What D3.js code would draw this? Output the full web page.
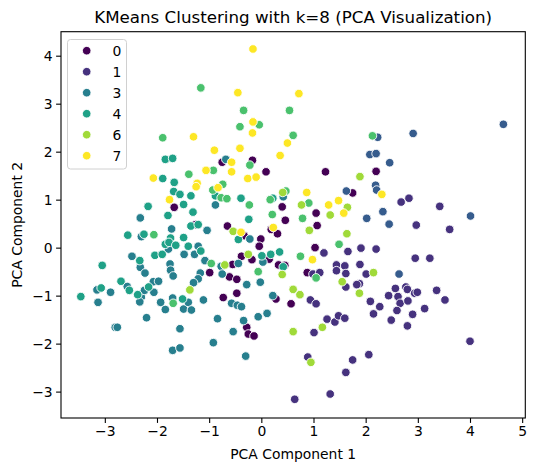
<!DOCTYPE html>
<html>
<head>
<meta charset="utf-8">
<script src="https://cdn.jsdelivr.net/npm/d3@7"></script>
<style>
  html, body { margin: 0; padding: 0; background: #fff; }
  svg text { font-family: "DejaVu Sans", sans-serif; fill: #000; }
</style>
</head>
<body>
<svg id="chart" width="536" height="470"></svg>
<script>
// ---------- data ----------
const title = "KMeans Clustering with k=8 (PCA Visualization)";
const xLabel = "PCA Component 1";
const yLabel = "PCA Component 2";
const clusterIds = [0, 1, 2, 3, 4, 5, 6, 7];
const legendLabels = [0, 1, 3, 4, 6, 7];
const xTicks = [-3, -2, -1, 0, 1, 2, 3, 4, 5];
const yTicks = [-3, -2, -1, 0, 1, 2, 3, 4];
const xDomain = [-3.84, 5.06];
const yDomain = [-3.55, 4.50];

const cluster0 = [[-0.75,1.78],[-0.17,1.82],[0.09,1.58],[1.23,1.58],[2.20,1.59],[-1.67,0.84],[-1.26,0.48],[-0.65,0.45],
  [-0.99,-0.52],[0.40,0.85],[1.05,0.72],[0.46,0.57],[1.07,0.46],[0.19,0.38],[0.31,0.29],[-0.33,0.25],[-0.01,0.18],
  [-0.04,0.03],[1.03,0.00],[1.75,1.14],[-0.38,-0.18],[0.15,-0.24],[-0.18,-0.25],[-0.55,-0.35],[0.33,-0.36],[0.45,-0.37],
  [0.88,-0.52],[-0.61,-0.61],[-0.47,-0.66],[-0.73,-1.04],[-0.47,-0.95],[0.28,-1.07],[0.57,-1.17],[-0.28,-1.66],
  [-0.25,-1.80],[-0.14,-1.84]];
const cluster1 = [[1.91,-0.01],[2.20,-0.03],[1.20,-0.11],[1.66,-0.08],[0.99,-0.55],[1.12,-0.52],[1.44,-0.36],[1.60,-0.38],
  [1.44,-0.48],[1.62,-0.54],[1.89,-0.35],[2.01,-0.55],[1.88,-0.75],[1.83,-0.77],[2.68,0.95],[2.83,1.03],[3.42,0.86],
  [2.97,0.47],[3.61,0.38],[2.95,-0.22],[3.23,-0.22],[0.94,-1.09],[1.05,-1.17],[1.26,-1.49],[1.41,-1.55],[1.48,-1.42],
  [1.60,-1.47],[1.01,-1.77],[1.62,-0.82],[2.09,-1.12],[2.27,-1.23],[2.15,-1.38],[0.89,-2.28],[2.06,-2.23],[1.75,-2.34],
  [1.62,-2.60],[1.32,-3.05],[0.64,-3.16],[2.44,-1.00],[2.57,-0.85],[2.62,-1.02],[2.66,-1.16],[2.60,-1.31],[2.49,-1.51],
  [2.77,-0.82],[2.80,-0.87],[2.81,-1.11],[2.94,-0.95],[2.99,-0.93],[2.90,-1.39],[2.80,-1.63],[3.13,-1.27],[3.36,-0.89],
  [3.52,-1.09],[4.00,-1.95]];
const cluster2 = [[2.23,2.30],[2.08,1.94],[2.20,1.96],[4.64,2.57],[2.91,2.38],[2.46,1.77],[1.63,1.18],[2.19,1.30],
  [2.21,1.20],[2.33,0.75],[2.02,0.61],[2.45,0.49],[4.01,0.66],[2.64,-0.55]];
const cluster3 = [[-0.68,1.84],[-0.88,0.89],[-2.32,0.62],[-1.04,0.36],[-1.72,0.39],[-2.30,0.23],[-1.21,0.03],[-1.78,-0.03],
  [-1.48,-0.14],[-1.28,-0.14],[-2.48,-0.18],[-1.08,-0.27],[-2.32,-0.41],[-1.75,-0.34],[-1.74,-0.47],[-2.23,-0.53],
  [-1.17,-0.53],[-0.77,-0.39],[-0.75,-0.55],[-1.69,-0.59],[-1.21,-0.65],[-2.07,-0.71],[-1.97,-0.70],[-1.30,-0.73],
  [0.42,1.06],[-0.22,0.18],[0.03,-0.30],[-0.44,-0.33],[-0.28,-0.77],[-0.02,-0.72],[-3.15,-0.88],[-3.13,-1.14],
  [-2.89,-0.93],[-2.57,-0.81],[-2.30,-1.03],[-2.24,-0.89],[-2.33,-1.13],[-2.06,-0.93],[-1.93,-1.14],[-1.84,-1.29],
  [-1.70,-1.05],[-1.49,-1.28],[-1.40,-1.14],[-1.34,-1.30],[-1.11,-1.09],[-0.84,-1.48],[-2.20,-1.46],[-2.80,-1.66],
  [-2.76,-1.66],[-1.56,-1.69],[-0.92,-1.98],[-1.70,-2.14],[-1.56,-2.09],[-0.57,-1.16],[-0.46,-1.20],[-0.38,-1.23],
  [-0.34,-1.52],[-0.06,-1.44],[0.11,-1.37],[0.22,-1.00],[-0.54,-1.75],[-0.30,-2.26]];
const cluster4 = [[-1.84,1.84],[-1.70,1.86],[-1.89,1.44],[-1.67,1.36],[-1.68,1.17],[-1.56,1.11],[-1.35,1.08],[-0.88,1.08],
  [-1.49,0.90],[-2.17,0.86],[-1.31,0.74],[-1.79,0.67],[-1.35,0.45],[-1.21,0.48],[-2.56,0.26],[-2.25,0.28],[-1.74,0.20],
  [-1.49,0.21],[-1.84,0.07],[-1.77,0.11],[-1.64,0.05],[-1.40,0.03],[-1.16,-0.07],[-2.04,-0.16],[-1.90,-0.14],
  [-2.33,-0.27],[-3.05,-0.37],[-2.69,-0.70],[-0.39,1.03],[0.22,1.03],[-0.24,0.59],[-0.44,0.17],[0.35,-0.09],
  [0.18,-0.14],[0.01,-0.17],[0.42,-0.40],[-3.46,-1.02],[-3.07,-0.84],[-2.53,-0.89],[-2.37,-0.98],[-2.16,-0.82],
  [-1.51,-1.07]];
const cluster5 = [[-1.16,3.33],[-1.89,2.29],[-0.34,2.86],[0.54,2.86],[-0.41,2.52],[-0.04,2.56],[0.61,2.34],[2.13,2.33],
  [-1.39,1.53],[-0.92,1.61],[-0.93,1.20],[-0.77,1.04],[-2.06,0.27],[-0.96,-0.33],[-0.22,1.72],[-0.74,1.32],[-0.66,1.02],
  [0.17,1.00],[0.47,1.18],[-0.23,0.89],[0.91,0.93],[0.21,0.69],[0.79,0.61],[1.49,0.07],[0.75,-0.18],[-0.06,-0.50],
  [1.05,-0.63],[-1.69,-1.16]];
const cluster6 = [[-0.70,-0.36],[1.89,1.48],[0.41,1.15],[0.77,0.89],[1.65,0.84],[1.32,0.68],[0.92,0.36],[-0.54,0.34],
  [1.64,0.29],[-0.25,-0.14],[0.40,-0.56],[2.15,-0.52],[1.55,-0.71],[-1.37,-0.88],[0.61,-0.87],[0.74,-0.98],[0.61,-1.75],
  [1.17,-1.66],[1.88,-0.95],[0.95,-2.39]];
const cluster7 = [[-1.30,2.31],[-0.90,2.03],[-0.16,4.14],[-0.45,3.23],[0.72,3.21],[-0.16,2.62],[-0.17,2.39],[0.50,2.18],
  [-0.41,2.07],[0.36,1.92],[-1.06,1.61],[-2.07,1.45],[-1.23,1.34],[-1.25,1.27],[-0.83,1.25],[-1.76,1.00],[-0.57,1.78],
  [-0.57,1.58],[-0.26,1.44],[-0.10,1.47],[0.87,1.15],[2.31,1.11],[1.48,0.98],[1.29,0.89],[1.58,0.72],[0.23,0.42],
  [-0.39,0.32],[0.98,-0.25]];

const clusterPoints = [cluster0, cluster1, cluster2, cluster3, cluster4, cluster5, cluster6, cluster7];
const points = [];
clusterPoints.forEach((arr, k) => arr.forEach(p => points.push({ x: p[0], y: p[1], c: clusterIds[k] })));

// ---------- layout ----------
const svg = d3.select("#chart");
const plot = { left: 61, right: 525.3, top: 31.7, bottom: 418 };

const x = d3.scaleLinear().domain(xDomain).range([plot.left, plot.right]);
const y = d3.scaleLinear().domain(yDomain).range([plot.bottom, plot.top]);
const color = d3.scaleSequential(d3.interpolateViridis).domain([0, 7]);
const fmt = d3.format("d");

// points
svg.append("g")
  .selectAll("circle")
  .data(points)
  .join("circle")
  .attr("cx", d => x(d.x))
  .attr("cy", d => y(d.y))
  .attr("r", 4.3)
  .attr("fill", d => color(d.c))
  .attr("stroke", "#fff")
  .attr("stroke-width", 0.9);

// axes
const xAxis = svg.append("g")
  .attr("transform", `translate(0,${plot.bottom})`)
  .call(d3.axisBottom(x).tickValues(xTicks).tickFormat(fmt).tickSize(4.9).tickPadding(3.5));
const yAxis = svg.append("g")
  .attr("transform", `translate(${plot.left},0)`)
  .call(d3.axisLeft(y).tickValues(yTicks).tickFormat(fmt).tickSize(4.9).tickPadding(3.5));
[xAxis, yAxis].forEach(g => {
  g.select(".domain").remove();
  g.selectAll(".tick line").attr("stroke", "#000").attr("stroke-width", 1.1);
  g.selectAll(".tick text").attr("font-size", "13.9px").attr("font-family", "DejaVu Sans, sans-serif").attr("fill", "#000");
});

// frame
svg.append("rect")
  .attr("x", plot.left).attr("y", plot.top)
  .attr("width", plot.right - plot.left).attr("height", plot.bottom - plot.top)
  .attr("fill", "none").attr("stroke", "#000").attr("stroke-width", 1.1);

// titles
svg.append("text")
  .attr("x", (plot.left + plot.right) / 2).attr("y", 23)
  .attr("text-anchor", "middle").attr("font-size", "16.7px")
  .text(title);
svg.append("text")
  .attr("x", (plot.left + plot.right) / 2).attr("y", 459)
  .attr("text-anchor", "middle").attr("font-size", "13.9px")
  .text(xLabel);
svg.append("text")
  .attr("transform", `translate(22,${(plot.top + plot.bottom) / 2}) rotate(-90)`)
  .attr("text-anchor", "middle").attr("font-size", "13.9px")
  .text(yLabel);

// legend
const lg = svg.append("g");
lg.append("rect")
  .attr("x", 67.5).attr("y", 39.5).attr("width", 59).attr("height", 129.5)
  .attr("rx", 3).attr("fill", "#fff").attr("fill-opacity", 0.8)
  .attr("stroke", "#d0d0d0").attr("stroke-width", 1);
const items = lg.selectAll("g.item").data(legendLabels).join("g")
  .attr("class", "item")
  .attr("transform", (d, i) => `translate(0,${50.7 + i * 21})`);
items.append("circle").attr("cx", 86.7).attr("cy", 0).attr("r", 4.3)
  .attr("fill", d => color(d)).attr("stroke", "#fff").attr("stroke-width", 0.9);
items.append("text").attr("x", 112.5).attr("y", 0).attr("dy", "0.36em")
  .attr("font-size", "13.9px").text(d => d);
</script>
</body>
</html>
